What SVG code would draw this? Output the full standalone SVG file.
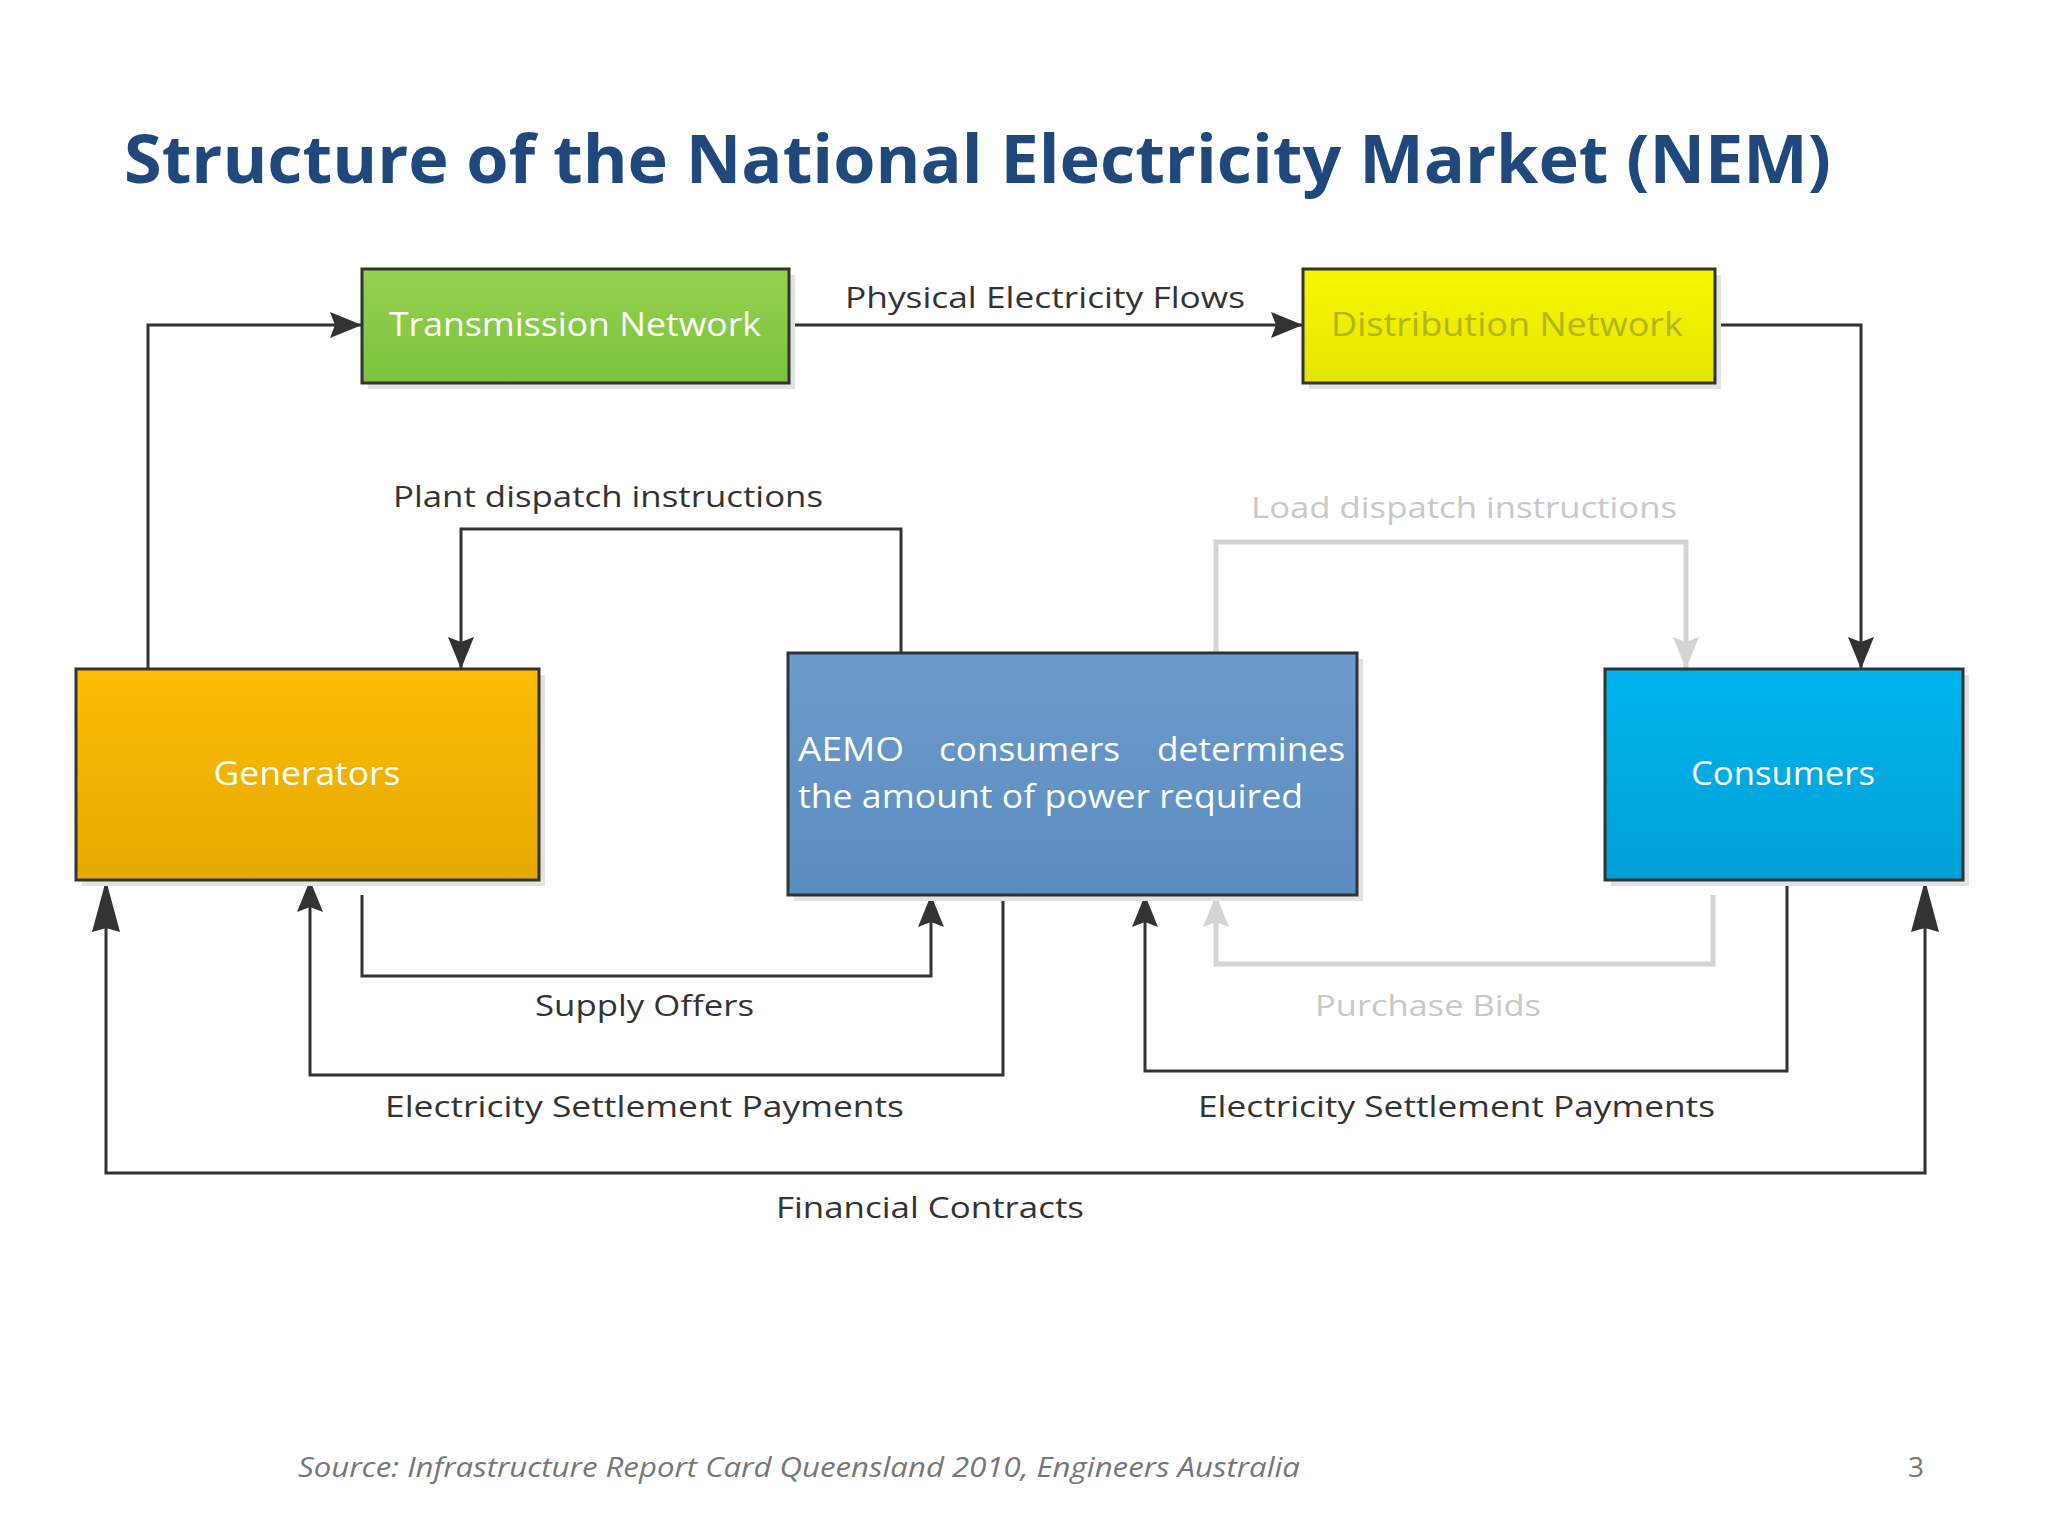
<svg xmlns="http://www.w3.org/2000/svg" width="2048" height="1536" viewBox="0 0 2048 1536">
<defs>
<linearGradient id="gGreen" x1="0" y1="0" x2="0" y2="1"><stop offset="0" stop-color="#94d24e"/><stop offset="1" stop-color="#7cc23c"/></linearGradient>
<linearGradient id="gYellow" x1="0" y1="0" x2="0" y2="1"><stop offset="0" stop-color="#f8f800"/><stop offset="1" stop-color="#e4e400"/></linearGradient>
<linearGradient id="gOrange" x1="0" y1="0" x2="0" y2="1"><stop offset="0" stop-color="#fdbd04"/><stop offset="1" stop-color="#e4a902"/></linearGradient>
<linearGradient id="gBlue" x1="0" y1="0" x2="0" y2="1"><stop offset="0" stop-color="#6c9ccb"/><stop offset="1" stop-color="#5a8cbf"/></linearGradient>
<linearGradient id="gCyan" x1="0" y1="0" x2="0" y2="1"><stop offset="0" stop-color="#00b6ee"/><stop offset="1" stop-color="#009ed6"/></linearGradient>
<marker id="arr" markerUnits="userSpaceOnUse" markerWidth="34" markerHeight="26" refX="32" refY="13" orient="auto"><path d="M0,0 L32,13 L0,26 L5,13 Z" fill="#333"/></marker>
<marker id="arrL" markerUnits="userSpaceOnUse" markerWidth="54" markerHeight="28" refX="52" refY="14" orient="auto-start-reverse"><path d="M0,0 L52,14 L0,28 L4,14 Z" fill="#333"/></marker>
<marker id="arrG" markerUnits="userSpaceOnUse" markerWidth="34" markerHeight="26" refX="32" refY="13" orient="auto"><path d="M0,0 L32,13 L0,26 L5,13 Z" fill="#d4d4d4"/></marker>
</defs>
<style>
.title{font-family:"Open Sans","Noto Sans",sans-serif;font-weight:bold;fill:#1f497d}
.box{stroke:#333;stroke-width:3}
.shadow{fill:#e2e2e2}
.nt{font-family:"Open Sans","Noto Sans",sans-serif;font-size:33px;fill:#fff}
.lbl{font-family:"Open Sans","Noto Sans",sans-serif;font-size:30px;fill:#333}
.lblg{font-family:"Open Sans","Noto Sans",sans-serif;font-size:30px;fill:#c8c8c8}
.ln{fill:none;stroke:#333;stroke-width:3}
.lng{fill:none;stroke:#d4d4d4;stroke-width:5}
.foot{font-family:"Open Sans","Noto Sans",sans-serif;font-style:italic;font-size:28px;fill:#777}
</style>
<rect width="2048" height="1536" fill="#fff"/>
<text class="title" x="124" y="183" font-size="66" textLength="1707" lengthAdjust="spacingAndGlyphs">Structure of the National Electricity Market (NEM)</text>

<g id="connectors">
<path class="ln" d="M148,669 V325 H362" marker-end="url(#arr)"/>
<path class="ln" d="M789,325 H1303" marker-end="url(#arr)"/>
<path class="ln" d="M1715,325 H1861 V669" marker-end="url(#arr)"/>
<path class="ln" d="M901,653 V529 H461 V669" marker-end="url(#arr)"/>
<path class="lng" d="M1216,653 V542 H1686 V669" marker-end="url(#arrG)"/>
<path class="ln" d="M362,895 V976 H931 V895" marker-end="url(#arr)"/>
<path class="ln" d="M1003,895 V1075 H310 V880" marker-end="url(#arr)"/>
<path class="lng" d="M1713,895 V964 H1216 V895" marker-end="url(#arrG)"/>
<path class="ln" d="M1787,880 V1071 H1145 V895" marker-end="url(#arr)"/>
<path class="ln" d="M106,880 V1173 H1925 V880" marker-start="url(#arrL)" marker-end="url(#arrL)"/>
<text class="lbl" x="845" y="308" textLength="400" lengthAdjust="spacingAndGlyphs">Physical Electricity Flows</text>
<text class="lbl" x="393" y="507" textLength="430" lengthAdjust="spacingAndGlyphs">Plant dispatch instructions</text>
<text class="lblg" x="1251" y="518" textLength="426" lengthAdjust="spacingAndGlyphs">Load dispatch instructions</text>
<text class="lbl" x="535" y="1016" textLength="219" lengthAdjust="spacingAndGlyphs">Supply Offers</text>
<text class="lblg" x="1315" y="1016" textLength="226" lengthAdjust="spacingAndGlyphs">Purchase Bids</text>
<text class="lbl" x="385" y="1117" textLength="519" lengthAdjust="spacingAndGlyphs">Electricity Settlement Payments</text>
<text class="lbl" x="1198" y="1117" textLength="517" lengthAdjust="spacingAndGlyphs">Electricity Settlement Payments</text>
<text class="lbl" x="776" y="1218" textLength="308" lengthAdjust="spacingAndGlyphs">Financial Contracts</text>
</g>

<g id="transmission">
<rect class="shadow" x="368" y="275" width="427" height="114"/>
<rect class="box" x="362" y="269" width="427" height="114" fill="url(#gGreen)"/>
<text class="nt" x="575" y="336" text-anchor="middle" textLength="372" lengthAdjust="spacingAndGlyphs">Transmission Network</text>
</g>
<g id="distribution">
<rect class="shadow" x="1309" y="275" width="412" height="114"/>
<rect class="box" x="1303" y="269" width="412" height="114" fill="url(#gYellow)"/>
<text class="nt" x="1507" y="336" text-anchor="middle" style="fill:#b4b41e" textLength="352" lengthAdjust="spacingAndGlyphs">Distribution Network</text>
</g>
<g id="generators">
<rect class="shadow" x="82" y="675" width="463" height="211"/>
<rect class="box" x="76" y="669" width="463" height="211" fill="url(#gOrange)"/>
<text class="nt" x="307" y="785" text-anchor="middle" textLength="187" lengthAdjust="spacingAndGlyphs">Generators</text>
</g>
<g id="aemo">
<rect class="shadow" x="794" y="659" width="569" height="242"/>
<rect class="box" x="788" y="653" width="569" height="242" fill="url(#gBlue)"/>
<text class="nt" x="798" y="761" textLength="106" lengthAdjust="spacingAndGlyphs">AEMO</text>
<text class="nt" x="939" y="761" textLength="181" lengthAdjust="spacingAndGlyphs">consumers</text>
<text class="nt" x="1157" y="761" textLength="188" lengthAdjust="spacingAndGlyphs">determines</text>
<text class="nt" x="798" y="808" textLength="505" lengthAdjust="spacingAndGlyphs">the amount of power required</text>
</g>
<g id="consumers">
<rect class="shadow" x="1611" y="675" width="358" height="211"/>
<rect class="box" x="1605" y="669" width="358" height="211" fill="url(#gCyan)"/>
<text class="nt" x="1783" y="785" text-anchor="middle" textLength="184" lengthAdjust="spacingAndGlyphs">Consumers</text>
</g>

<text class="foot" x="298" y="1477" textLength="1002" lengthAdjust="spacingAndGlyphs">Source: Infrastructure Report Card Queensland 2010, Engineers Australia</text>
<text class="foot" x="1908" y="1477" style="font-style:normal">3</text>
</svg>
